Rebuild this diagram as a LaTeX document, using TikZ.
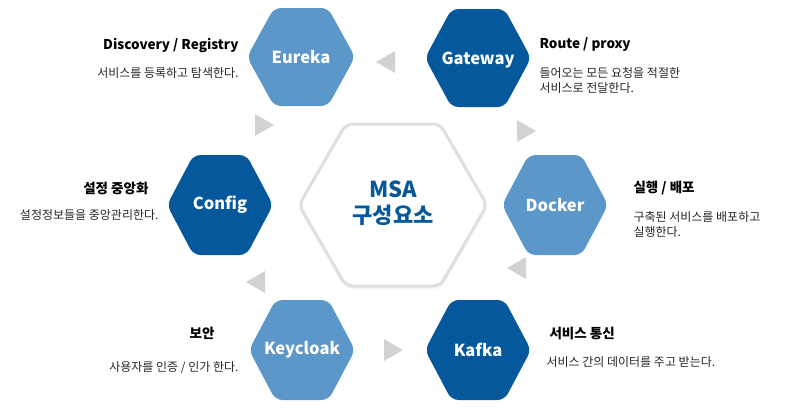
\documentclass[tikz,border=0pt]{standalone}
\usepackage{fontspec}
\setmainfont{Noto Sans CJK KR}
\begin{document}
\begin{tikzpicture}[x=1pt,y=-1pt,
  light/.style={fill=blue1,draw=none},
  dark/.style={fill=blue2,draw=none},
  hexlabel/.style={text=white,font=\bfseries\fontsize{16.5}{19}\selectfont},
  head/.style={font=\bfseries\fontsize{13.5}{16}\selectfont,text=black},
  body/.style={font=\fontsize{12}{15}\selectfont,text=black!85,align=left},
  tri/.style={fill=gray!35,draw=none}]
\definecolor{blue1}{HTML}{5B97C8}
\definecolor{blue2}{HTML}{06589C}
\useasboundingbox (0,0) rectangle (791,416);
\newcommand\hexshape[5]{%
  \path[#5,rounded corners=7pt] (#1-#3,#2) -- (#1-#3*0.5,#2-#4) -- (#1+#3*0.5,#2-#4) -- (#1+#3,#2) -- (#1+#3*0.5,#2+#4) -- (#1-#3*0.5,#2+#4) -- cycle;}
\newcommand\tril[2]{\path[tri] (#1-10,#2) -- (#1+9,#2-11) -- (#1+9,#2+11) -- cycle;}
\newcommand\trir[2]{\path[tri] (#1+10,#2) -- (#1-9,#2-11) -- (#1-9,#2+11) -- cycle;}
% center
\hexshape{393}{206}{96}{83}{fill=gray!8,draw=none}
\hexshape{393}{205}{94}{81}{fill=white,draw=gray!25,line width=3pt}
\node[text=blue2,font=\bfseries\fontsize{22}{26}\selectfont,align=center] (msa) at (393,203) {MSA\\구성요소};
% hexes
\hexshape{301}{57}{54}{49}{light}
\node[hexlabel] (eureka) at (301,57) {Eureka};
\hexshape{478}{58}{53}{49}{dark}
\node[hexlabel] (gateway) at (478,60) {Gateway};
\hexshape{220}{205}{53}{50}{dark}
\node[hexlabel] (config) at (220,205) {Config};
\hexshape{555}{205}{53}{50}{light}
\node[hexlabel] (docker) at (555,205) {Docker};
\hexshape{302}{350}{53}{50}{light}
\node[hexlabel] (keycloak) at (302,350) {Keycloak};
\hexshape{478}{350}{53}{50}{dark}
\node[hexlabel] (kafka) at (478,350) {Kafka};
% triangles
\tril{386}{62}
\trir{264}{125}
\trir{526}{131}
\tril{517}{268}
\tril{256}{282}
\trir{393}{350}
% texts
\node[head,anchor=east] (t1) at (242,45) {Discovery / Registry};
\node[body,anchor=east] (b1) at (242,73) {서비스를 등록하고 탐색한다.};
\node[head,anchor=west] (t2) at (536,44) {Route / proxy};
\node[body,anchor=north west] (b2) at (536,64) {들어오는 모든 요청을 적절한\\서비스로 전달한다.};
\node[head,anchor=east] (t3) at (152,188) {설정 중앙화};
\node[body,anchor=east] (b3) at (162,215) {설정정보들을 중앙관리한다.};
\node[head,anchor=west] (t4) at (630,188) {실행 / 배포};
\node[body,anchor=north west] (b4) at (630,208) {구축된 서비스를 배포하고\\실행한다.};
\node[head,anchor=east] (t5) at (218,333) {보안};
\node[body,anchor=east] (b5) at (242,368) {사용자를 인증 / 인가 한다.};
\node[head,anchor=west] (t6) at (546,333) {서비스 통신};
\node[body,anchor=west] (b6) at (543,362) {서비스 간의 데이터를 주고 받는다.};
\end{tikzpicture}
\end{document}
